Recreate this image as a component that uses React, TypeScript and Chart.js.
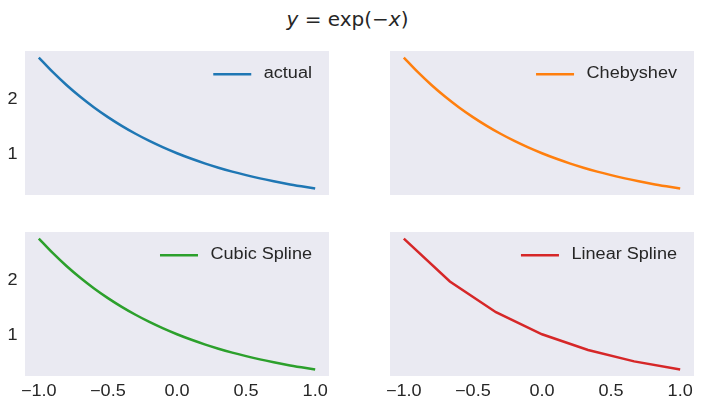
import React, { useEffect, useRef } from "react";
import { Chart, registerables } from "chart.js";

Chart.register(...registerables);

// ---- data ----
const xSmooth = [-1.0, -0.9, -0.8, -0.7, -0.6, -0.5, -0.4, -0.3, -0.2, -0.1, 0.0, 0.1, 0.2, 0.3, 0.4, 0.5, 0.6, 0.7, 0.8, 0.9, 1.0];
const actualValues = [2.718, 2.460, 2.226, 2.014, 1.822, 1.649, 1.492, 1.350, 1.221, 1.105, 1.0, 0.905, 0.819, 0.741, 0.670, 0.607, 0.549, 0.497, 0.449, 0.407, 0.368];
const chebyshevValues = [2.718, 2.460, 2.226, 2.014, 1.822, 1.649, 1.492, 1.350, 1.221, 1.105, 1.0, 0.905, 0.819, 0.741, 0.670, 0.607, 0.549, 0.497, 0.449, 0.407, 0.368];
const cubicSplineValues = [2.718, 2.460, 2.226, 2.014, 1.822, 1.649, 1.492, 1.350, 1.221, 1.105, 1.0, 0.905, 0.819, 0.741, 0.670, 0.607, 0.549, 0.497, 0.449, 0.407, 0.368];
const xKnots = [-1.0, -0.6667, -0.3333, 0.0, 0.3333, 0.6667, 1.0];
const linearSplineValues = [2.718, 1.948, 1.396, 1.0, 0.717, 0.513, 0.368];

const xTickValues = [-1.0, -0.5, 0.0, 0.5, 1.0];
const yTickValues = [1, 2];
const xLimits = [-1.1, 1.1];
const yLimits = [0.2507, 2.8355];

const TEXT = "#262626";
const BG = "#EAEAF2";
const FONT = "'Liberation Sans', Arial, sans-serif";
const FS = 16; // font size for ticks/legend
const SX = 1.13; // horizontal text stretch to match reference

type Panel = {
  label: string;
  color: string;
  xs: number[];
  ys: number[];
  left: number;
  top: number;
  yAxisW: number;
  showX: boolean;
  showY: boolean;
  padRight: number;
};

const PW = 304;
const PH = 144;
const XH = 32;

const panels: Panel[] = [
  { label: "actual", color: "#1f77b4", xs: xSmooth, ys: actualValues, left: 25, top: 51, yAxisW: 25, showX: false, showY: true, padRight: 10 },
  { label: "Chebyshev", color: "#ff7f0e", xs: xSmooth, ys: chebyshevValues, left: 390, top: 51, yAxisW: 20, showX: false, showY: false, padRight: 6 },
  { label: "Cubic Spline", color: "#2ca02c", xs: xSmooth, ys: cubicSplineValues, left: 25, top: 232, yAxisW: 25, showX: true, showY: true, padRight: 10 },
  { label: "Linear Spline", color: "#d62728", xs: xKnots, ys: linearSplineValues, left: 390, top: 232, yAxisW: 20, showX: true, showY: false, padRight: 6 },
];

const fmt = (v: number, d: number) => v.toFixed(d).replace("-", "\u2212");

function drawStretched(ctx: any, text: string, x: number, y: number, align: "left" | "center" | "right") {
  ctx.save();
  ctx.translate(x, y);
  ctx.scale(SX, 1);
  ctx.textAlign = align;
  ctx.textBaseline = "alphabetic";
  ctx.fillText(text, 0, 0);
  ctx.restore();
}

const bgPlugin = {
  id: "bgPlugin",
  beforeDraw(chart: any) {
    const { ctx, chartArea } = chart;
    ctx.save();
    ctx.fillStyle = BG;
    ctx.fillRect(chartArea.left, chartArea.top, chartArea.right - chartArea.left, chartArea.bottom - chartArea.top);
    ctx.restore();
  },
};

function makeTickPlugin(showX: boolean, showY: boolean) {
  return {
    id: "tickLabels",
    afterDraw(chart: any) {
      const { ctx, chartArea, scales } = chart;
      ctx.save();
      ctx.font = `${FS}px ${FONT}`;
      ctx.fillStyle = TEXT;
      if (showX) {
        const xs = scales.x;
        xTickValues.forEach((v) => {
          drawStretched(ctx, fmt(v, 1), xs.getPixelForValue(v), chartArea.bottom + 20, "center");
        });
      }
      if (showY) {
        const ys = scales.y;
        yTickValues.forEach((v) => {
          drawStretched(ctx, fmt(v, 0), chartArea.left - 7.5, ys.getPixelForValue(v) + 6, "right");
        });
      }
      ctx.restore();
    },
  };
}

const legendPlugin = {
  id: "insideLegend",
  afterDatasetsDraw(chart: any) {
    const { ctx, chartArea } = chart;
    const ds = chart.data.datasets[0];
    ctx.save();
    ctx.font = `${FS}px ${FONT}`;
    const tw = ctx.measureText(ds.label).width * SX;
    const textRight = chartArea.right - 17;
    const textLeft = textRight - tw;
    const cy = chartArea.top + 23.3;
    ctx.fillStyle = TEXT;
    drawStretched(ctx, ds.label, textLeft, chartArea.top + 27.3, "left");
    ctx.strokeStyle = ds.borderColor;
    ctx.lineWidth = 2.5;
    ctx.beginPath();
    ctx.moveTo(textLeft - 12.5 - 38, cy);
    ctx.lineTo(textLeft - 12.5, cy);
    ctx.stroke();
    ctx.restore();
  },
};

function PanelChart({ p }: { p: Panel }) {
  const ref = useRef<HTMLCanvasElement | null>(null);
  const w = p.yAxisW + PW + p.padRight;
  const h = PH + (p.showX ? XH : 0);
  useEffect(() => {
    if (!ref.current) return;
    const chart = new Chart(ref.current, {
      type: "line",
      data: {
        datasets: [
          {
            label: p.label,
            data: p.xs.map((x, i) => ({ x, y: p.ys[i] })),
            borderColor: p.color,
            backgroundColor: p.color,
            borderWidth: 2.5,
            pointRadius: 0,
            tension: 0,
            cubicInterpolationMode: p.xs.length > 10 ? "monotone" : "default",
            fill: false,
          } as any,
        ],
      },
      options: {
        animation: false,
        responsive: false,
        devicePixelRatio: 1,
        layout: { padding: { left: 0, right: p.padRight, top: 0, bottom: 0 } },
        plugins: { legend: { display: false }, tooltip: { enabled: false }, title: { display: false } },
        scales: {
          x: {
            type: "linear",
            display: p.showX,
            min: xLimits[0],
            max: xLimits[1],
            grid: { display: false },
            border: { display: false },
            afterBuildTicks: (s: any) => {
              s.ticks = xTickValues.map((v) => ({ value: v }));
            },
            afterFit: (s: any) => {
              s.height = p.showX ? XH : 0;
              s.paddingLeft = 0;
              s.paddingRight = 0;
              s.paddingTop = 0;
              s.paddingBottom = 0;
            },
            ticks: {
              display: false,
              font: { family: FONT, size: FS },
              maxRotation: 0,
              autoSkip: false,
            },
          },
          y: {
            type: "linear",
            display: true,
            min: yLimits[0],
            max: yLimits[1],
            grid: { display: false },
            border: { display: false },
            afterBuildTicks: (s: any) => {
              s.ticks = yTickValues.map((v) => ({ value: v }));
            },
            afterFit: (s: any) => {
              s.width = p.yAxisW;
              s.paddingLeft = 0;
              s.paddingRight = 0;
              s.paddingTop = 0;
              s.paddingBottom = 0;
            },
            ticks: {
              display: false,
              font: { family: FONT, size: FS },
            },
          },
        },
      } as any,
      plugins: [bgPlugin, legendPlugin, makeTickPlugin(p.showX, p.showY)],
    });
    return () => chart.destroy();
  }, []);
  return (
    <canvas
      ref={ref}
      width={w}
      height={h}
      style={{ position: "absolute", left: p.left - p.yAxisW, top: p.top, width: w, height: h }}
    />
  );
}

export default function App() {
  return (
    <div style={{ position: "absolute", left: 0, top: 0, width: 701, height: 408, background: "#fff", overflow: "hidden" }}>
      <div
        style={{
          position: "absolute",
          left: -3,
          width: 701,
          top: 6,
          textAlign: "center",
          fontFamily: "'DejaVu Sans', sans-serif",
          fontSize: 20,
          color: TEXT,
          lineHeight: "26px",
          whiteSpace: "pre",
        }}
      >
        <i>y</i>
        {" = exp(\u2212"}
        <i>x</i>
        {")"}
      </div>
      {panels.map((p) => (
        <PanelChart key={p.label} p={p} />
      ))}
    </div>
  );
}
